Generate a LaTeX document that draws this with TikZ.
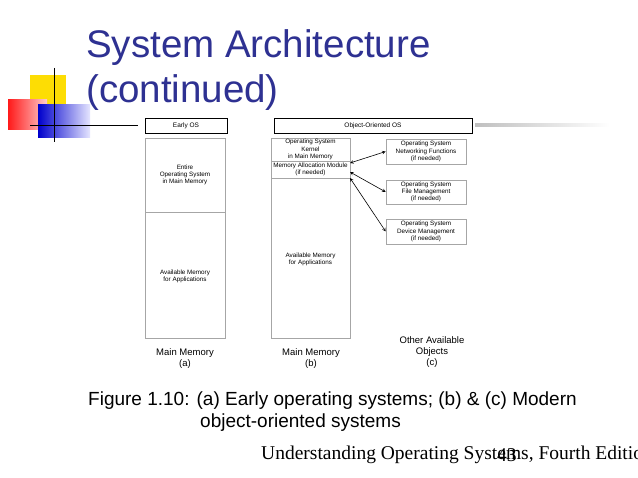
\documentclass[tikz,border=0pt]{standalone}
\usepackage{fontspec}
\setmainfont{Liberation Sans}
\newfontfamily\timesf{Liberation Serif}
\begin{document}
\begin{tikzpicture}[x=1pt,y=-1pt,
  box/.style={draw=black!35,line width=0.6pt,inner sep=0pt},
  hdr/.style={draw=black,line width=0.8pt,inner sep=0pt},
  tiny/.style={font=\fontsize{6.3}{7.2}\selectfont,align=center},
  lbl/.style={font=\fontsize{9.5}{11}\selectfont,align=center},
  arr/.style={<->,>=stealth,line width=0.6pt}]
\useasboundingbox[fill=white] (0,0) rectangle (638,478);
\definecolor{ttl}{RGB}{46,49,146}
% decoration
\fill[yellow!80!orange] (30,75) rectangle (66,110);
\shade[left color=red!90,right color=red!20] (8,100) rectangle (47,130);
\shade[left color=blue!80!black,right color=blue!10] (38,105) rectangle (90,138);
\draw[line width=1pt] (54,68) -- (54,142);
\draw[line width=0.8pt] (30,125) -- (138,125);
\shade[left color=black!25,right color=white] (475,124) rectangle (610,126.5);
% title
\node[anchor=west,text=ttl,font=\fontsize{38.5}{45}\selectfont,align=left,inner sep=0pt] (title) at (86,70) {System Architecture\\(continued)};
% headers
\node[hdr,minimum width=82,minimum height=15] (early) at (186,125.5) {\fontsize{6.5}{7}\selectfont Early OS};
\node[hdr,minimum width=198,minimum height=15] (oo) at (373,125.5) {\fontsize{6.5}{7}\selectfont Object-Oriented OS};
% left column
\node[box,minimum width=80,minimum height=74,tiny] (eos) at (185,175) {Entire\\Operating System\\in Main Memory};
\node[box,minimum width=80,minimum height=126,anchor=north] (eav) at (185,212) {};
\node[tiny] at (185,276) {Available Memory\\for Applications};
% middle column
\node[box,minimum width=79,minimum height=23,tiny] (kern) at (310.5,149.5) {Operating System\\Kernel\\in Main Memory};
\node[box,minimum width=79,minimum height=17,tiny] (mam) at (310.5,169.5) {Memory Allocation Module\\(if needed)};
\node[box,minimum width=79,minimum height=160,anchor=north] (mav) at (310.5,178) {};
\node[tiny] at (310.5,259) {Available Memory\\for Applications};
% right boxes
\node[box,minimum width=80,minimum height=25,tiny] (net) at (426,151.5) {Operating System\\Networking Functions\\(if needed)};
\node[box,minimum width=80,minimum height=24,tiny] (file) at (426,192) {Operating System\\File Management\\(if needed)};
\node[box,minimum width=80,minimum height=25,tiny] (dev) at (426,231.5) {Operating System\\Device Management\\(if needed)};
\coordinate (a1) at (350,163); \coordinate (a2) at (350,172); \coordinate (a3) at (350,178);
\draw[arr] (a1) -- (net.west);
\draw[arr] (a2) -- (file.west);
\draw[arr] (a3) -- (dev.west);
% labels
\node[lbl] (la) at (185,359) {Main Memory\\(a)};
\node[lbl] (lb) at (311,359) {Main Memory\\(b)};
\node[lbl] (lc) at (432,352) {Other Available\\Objects\\(c)};
% caption
\node[anchor=west,font=\fontsize{19}{22}\selectfont,inner sep=0pt] (cap1) at (88,401) {Figure 1.10: (a) Early operating systems; (b) \& (c) Modern};
\node[anchor=west,font=\fontsize{19}{22}\selectfont,inner sep=0pt] (cap2) at (200,423) {object-oriented systems};
% footer
\node[anchor=west,font=\timesf\fontsize{19.5}{22}\selectfont,inner sep=0pt] (foot) at (261,455) {Understanding Operating Systems, Fourth Edition};
\node[anchor=west,font=\timesf\fontsize{19.5}{22}\selectfont,inner sep=0pt] (pg) at (497,455) {43};
\end{tikzpicture}
\end{document}
